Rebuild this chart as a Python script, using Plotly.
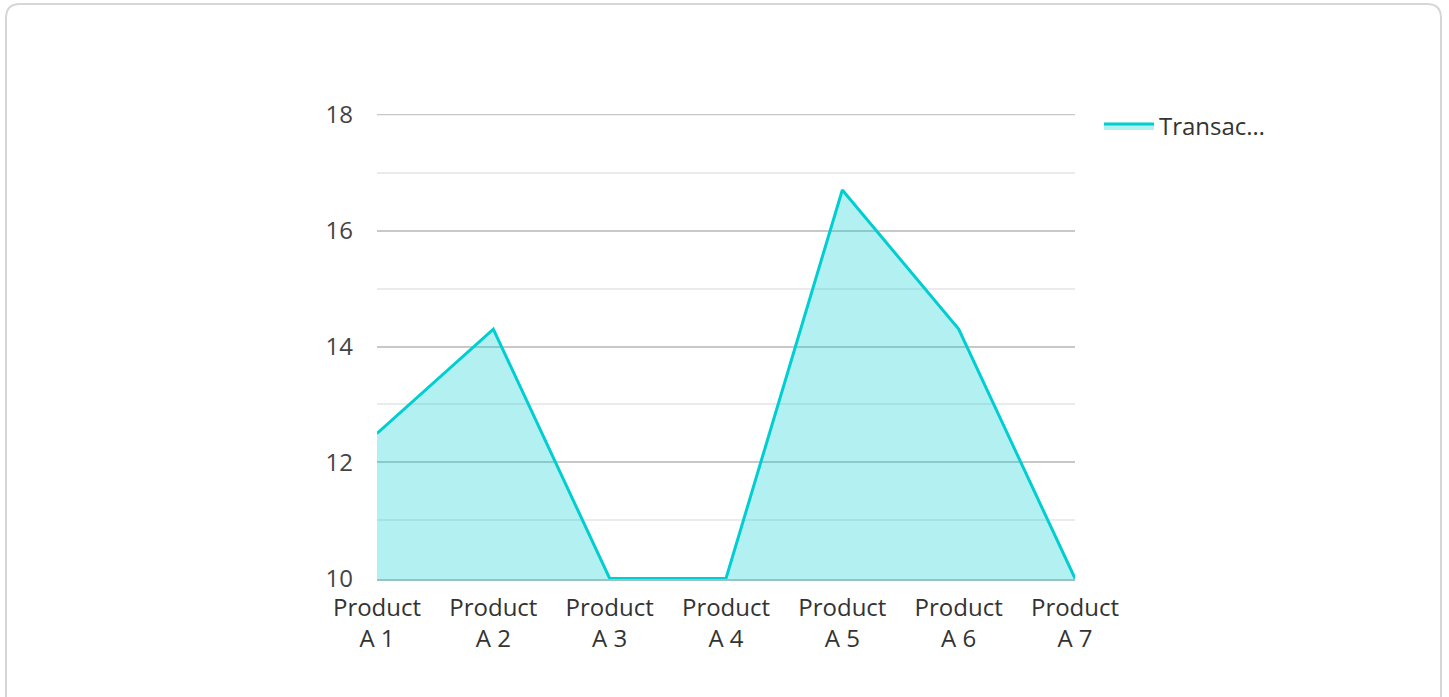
import plotly.graph_objects as go

categories = ["Product<br>A 1", "Product<br>A 2", "Product<br>A 3", "Product<br>A 4",
              "Product<br>A 5", "Product<br>A 6", "Product<br>A 7"]
values = [12.5, 14.3, 10, 10, 16.7, 14.3, 10]
series_name = "Transac…"
y_ticks = [10, 12, 14, 16, 18]

W, H = 1449, 697

fig = go.Figure()
fig.add_trace(go.Scatter(
    x=categories, y=values, name=series_name, mode="lines",
    line=dict(color="#00CED1", width=3),
    fill="tozeroy", fillcolor="rgba(0,206,209,0.3)",
    showlegend=True,
))

def px(x):
    return x / W

def py(y):
    return 1 - y / H

# rounded card border
x0, y0, x1, y1, r = 6, 4, 1441, 712, 14
path = (f"M {px(x0+r)},{py(y0)} L {px(x1-r)},{py(y0)} Q {px(x1)},{py(y0)} {px(x1)},{py(y0+r)} "
        f"L {px(x1)},{py(y1-r)} Q {px(x1)},{py(y1)} {px(x1-r)},{py(y1)} "
        f"L {px(x0+r)},{py(y1)} Q {px(x0)},{py(y1)} {px(x0)},{py(y1-r)} "
        f"L {px(x0)},{py(y0+r)} Q {px(x0)},{py(y0)} {px(x0+r)},{py(y0)} Z")

shapes = [dict(type="path", xref="paper", yref="paper", path=path,
               line=dict(color="#d6d6d6", width=2), layer="below")]
# top major gridline (Plotly omits the grid line at the range edge)
shapes.append(dict(type="line", xref="x domain", yref="y", x0=0, x1=1,
                   y0=y_ticks[-1], y1=y_ticks[-1],
                   line=dict(color="#c8c8c8", width=1.5), layer="below"))

fig.update_layout(
    width=W, height=H,
    margin=dict(l=0, r=0, t=0, b=0),
    paper_bgcolor="white", plot_bgcolor="white",
    font=dict(family="Open Sans", size=24, color="#444444"),
    shapes=shapes,
    xaxis=dict(
        domain=[377 / W, 1075 / W], range=[0, 6], type="category",
        showgrid=False, zeroline=False, showline=True, linecolor="#96c4c4", linewidth=2,
        ticks="", ticklabelstandoff=6,
        automargin=False, tickfont=dict(size=24, color="#333333"),
    ),
    yaxis=dict(
        domain=[1 - 579 / H, 1 - 114 / H], range=[9.99, 18.01],
        tickvals=y_ticks, showgrid=True, gridcolor="#c8c8c8", gridwidth=1.5,
        minor=dict(dtick=1, showgrid=True, gridcolor="#ebebeb", gridwidth=1.5),
        zeroline=False, showline=False, ticks="", ticklabelstandoff=23,
        automargin=False, tickfont=dict(size=24, color="#444444"),
    ),
    legend=dict(x=1099 / W, y=1 - 104 / H, xanchor="left", yanchor="top",
                itemwidth=50, font=dict(size=24, color="#333333"),
                bgcolor="rgba(0,0,0,0)"),
)

fig.write_html("out.html", config={"displayModeBar": False},
               post_script="document.body.style.margin='0';")
